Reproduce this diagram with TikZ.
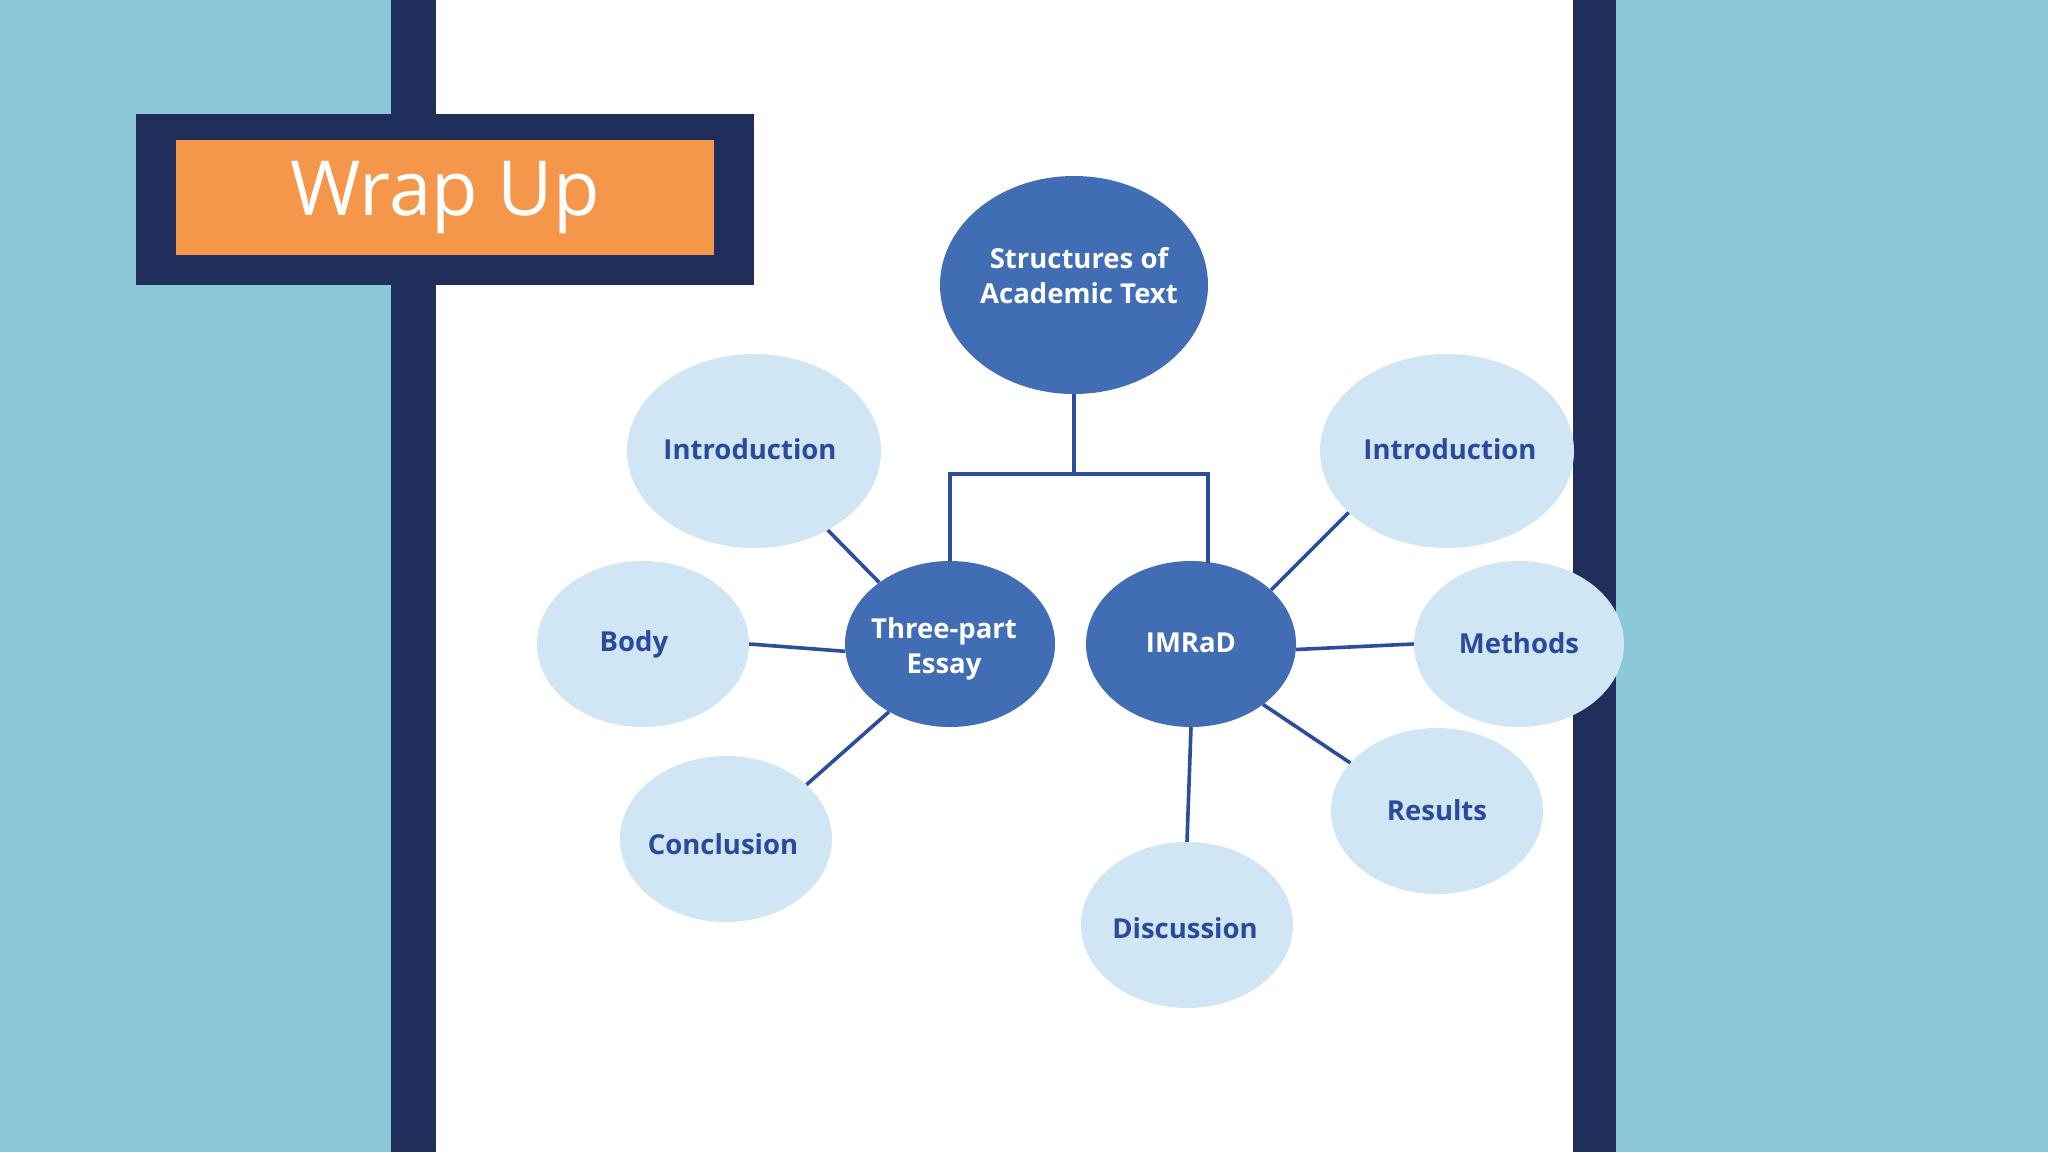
\documentclass[tikz,border=0pt]{standalone}
\usepackage{fontspec}
\setmainfont{Open Sans}
\usetikzlibrary{shapes.geometric}
\definecolor{bgblue}{HTML}{8CC8D8}
\definecolor{navy}{HTML}{1F2E5A}
\definecolor{orangebox}{HTML}{F5974A}
\definecolor{darkell}{HTML}{416DB4}
\definecolor{lightell}{HTML}{D0E6F5}
\definecolor{labelblue}{HTML}{2B4A9C}
\definecolor{linkblue}{HTML}{2E4C9E}
\tikzset{
  dark/.style={ellipse, fill=darkell, inner sep=0pt},
  light/.style={ellipse, fill=lightell, inner sep=0pt},
  darktext/.style={inner sep=0pt, align=center, text=white,
    font=\bfseries\fontsize{27.5}{35}\selectfont},
  lighttext/.style={inner sep=0pt, align=center, text=labelblue,
    font=\bfseries\fontsize{27.5}{35}\selectfont},
  link/.style={draw=linkblue, line width=3.6pt},
}
\begin{document}
\begin{tikzpicture}[x=1pt,y=-1pt]
\useasboundingbox (0,0) rectangle (2048,1152);
% background
\fill[bgblue] (0,0) rectangle (2048,1152);
\fill[white] (436,0) rectangle (1573,1152);
\fill[navy] (391,0) rectangle (436,1152);
\fill[navy] (1573,0) rectangle (1616,1152);
% title
\fill[navy] (136,114) rectangle (754,285);
\node[fill=orangebox, minimum width=538pt, minimum height=115pt, inner sep=0pt,
  text=white, font=\fontsize{76}{90}\selectfont] (title) at (445,197.5) {Wrap Up};
% ellipses
\node[dark, minimum width=268pt, minimum height=218pt] (S) at (1074,285) {};
\node[dark, minimum width=210pt, minimum height=166pt] (E) at (950,644) {};
\node[dark, minimum width=210pt, minimum height=166pt] (I) at (1191,644) {};
\node[light, minimum width=254pt, minimum height=194pt] (IL) at (754,451) {};
\node[light, minimum width=212pt, minimum height=166pt] (B) at (643,644) {};
\node[light, minimum width=212pt, minimum height=166pt] (C) at (726,839) {};
\node[light, minimum width=254pt, minimum height=194pt] (IR) at (1447,451) {};
\node[light, minimum width=210pt, minimum height=166pt] (M) at (1519,644) {};
\node[light, minimum width=212pt, minimum height=166pt] (R) at (1437,811) {};
\node[light, minimum width=212pt, minimum height=166pt] (D) at (1187,925) {};
% texts
\node[darktext] (St) at (1079,276) {Structures of\\Academic Text};
\node[darktext] (Et) at (944,649) {Three-part\\Essay};
\node[darktext] (It) at (1191,643) {IMRaD};
\node[lighttext] (ILt) at (750,449) {Introduction};
\node[lighttext] (Bt) at (634,644) {Body};
\node[lighttext] (Ct) at (723,844) {Conclusion};
\node[lighttext] (IRt) at (1450,449) {Introduction};
\node[lighttext] (Mt) at (1519,643) {Methods};
\node[lighttext] (Rt) at (1437,810) {Results};
\node[lighttext] (Dt) at (1185,928) {Discussion};
% connectors
\coordinate (jm) at (1074,474);
\coordinate (jl) at (950,474);
\coordinate (jr) at (1208,474);
\coordinate (ie) at (1208,563);
\draw[link] (S.south) -- (jm);
\draw[link, line join=miter] (E.north) -- (jl) -- (jr) -- (ie);
\draw[link] (IL.-47) -- (E.139);
\draw[link] (B.east) -- (E.184);
\draw[link] (C.34) -- (E.228);
\draw[link] (I.34) -- (IR.212);
\draw[link] (I.-3) -- (M.180);
\draw[link] (I.-40) -- (R.151);
\draw[link] (I.south) -- (D.north);
\end{tikzpicture}
\end{document}
